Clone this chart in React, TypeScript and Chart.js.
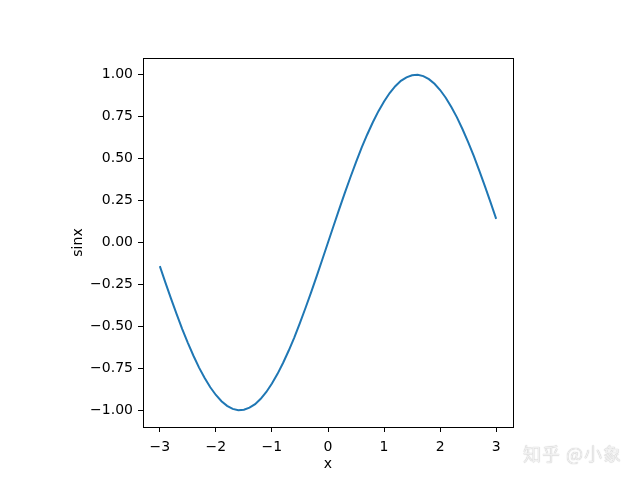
import React, { useEffect, useRef } from "react";
import { Chart, registerables } from "chart.js";

Chart.register(...registerables);

const xValues = [
  -3.0, -2.9, -2.8, -2.7, -2.6, -2.5, -2.4, -2.3, -2.2, -2.1,
  -2.0, -1.9, -1.8, -1.7, -1.6, -1.5, -1.4, -1.3, -1.2, -1.1,
  -1.0, -0.9, -0.8, -0.7, -0.6, -0.5, -0.4, -0.3, -0.2, -0.1,
  0.0, 0.1, 0.2, 0.3, 0.4, 0.5, 0.6, 0.7, 0.8, 0.9,
  1.0, 1.1, 1.2, 1.3, 1.4, 1.5, 1.6, 1.7, 1.8, 1.9,
  2.0, 2.1, 2.2, 2.3, 2.4, 2.5, 2.6, 2.7, 2.8, 2.9, 3.0,
];

const sinValues = [
  -0.141, -0.239, -0.335, -0.427, -0.516, -0.598, -0.675, -0.746, -0.808, -0.863,
  -0.909, -0.946, -0.974, -0.992, -1.0, -0.997, -0.985, -0.964, -0.932, -0.891,
  -0.841, -0.783, -0.717, -0.644, -0.565, -0.479, -0.389, -0.296, -0.199, -0.1,
  0.0, 0.1, 0.199, 0.296, 0.389, 0.479, 0.565, 0.644, 0.717, 0.783,
  0.841, 0.891, 0.932, 0.964, 0.985, 0.997, 1.0, 0.992, 0.974, 0.946,
  0.909, 0.863, 0.808, 0.746, 0.675, 0.598, 0.516, 0.427, 0.335, 0.239, 0.141,
];

const xTicks = [-3, -2, -1, 0, 1, 2, 3];
const yTicks = [-1.0, -0.75, -0.5, -0.25, 0.0, 0.25, 0.5, 0.75, 1.0];

const FONT = "'DejaVu Sans', sans-serif";

const fmtMinus = (s: string) => s.replace("-", "\u2212");

const framePlugin = {
  id: "frame",
  afterDraw(chart: any) {
    const { ctx, chartArea } = chart;
    ctx.save();
    ctx.strokeStyle = "#000";
    ctx.lineWidth = 1;
    ctx.strokeRect(
      Math.round(chartArea.left) + 0.5,
      Math.round(chartArea.top) + 0.5,
      Math.round(chartArea.right - chartArea.left),
      Math.round(chartArea.bottom - chartArea.top)
    );
    ctx.restore();
  },
};

export default function App() {
  const ref = useRef<HTMLCanvasElement | null>(null);

  useEffect(() => {
    if (!ref.current) return;
    const chart = new Chart(ref.current, {
      type: "line",
      data: {
        datasets: [
          {
            data: xValues.map((x, i) => ({ x, y: sinValues[i] })),
            borderColor: "#1f77b4",
            borderWidth: 2,
            pointRadius: 0,
            tension: 0,
            fill: false,
          },
        ],
      },
      options: {
        responsive: false,
        animation: false,
        layout: { padding: { left: 70, top: 58, right: 127, bottom: 0 } },
        plugins: {
          legend: { display: false },
          tooltip: { enabled: false },
        },
        scales: {
          x: {
            type: "linear",
            min: -3.3,
            max: 3.3,
            afterBuildTicks: (scale: any) => {
              scale.ticks = xTicks.map((v) => ({ value: v }));
            },
            afterFit: (scale: any) => {
              scale.height = 53;
            },
            grid: {
              drawOnChartArea: false,
              drawTicks: true,
              tickLength: 5,
              color: "#000",
            },
            border: { display: true, color: "#000" },
            ticks: {
              color: "#000",
              font: { family: FONT, size: 14 },
              padding: 7,
              maxRotation: 0,
              callback: (v: any) => fmtMinus(String(v)),
            },
            title: {
              display: true,
              text: "x",
              color: "#000",
              font: { family: FONT, size: 14 },
              padding: { top: 0, bottom: 7 },
            },
          },
          y: {
            type: "linear",
            min: -1.1,
            max: 1.1,
            afterBuildTicks: (scale: any) => {
              scale.ticks = yTicks.map((v) => ({ value: v }));
            },
            afterFit: (scale: any) => {
              scale.width = 73;
            },
            grid: {
              drawOnChartArea: false,
              drawTicks: true,
              tickLength: 5,
              color: "#000",
            },
            border: { display: true, color: "#000" },
            ticks: {
              color: "#000",
              font: { family: FONT, size: 14 },
              padding: 5,
              callback: (v: any) => fmtMinus(Number(v).toFixed(2)),
            },
            title: {
              display: true,
              text: "sinx",
              color: "#000",
              font: { family: FONT, size: 14 },
              padding: { top: 0, bottom: 0 },
            },
          },
        },
      },
      plugins: [framePlugin],
    });
    return () => chart.destroy();
  }, []);

  return (
    <div style={{ position: "fixed", left: 0, top: 0, width: 640, height: 480, background: "#fff" }}>
      <canvas ref={ref} width={640} height={480} style={{ width: 640, height: 480 }} />
      <div
        style={{
          position: "absolute",
          left: 523,
          top: 440,
          fontFamily: "'Noto Sans CJK SC', sans-serif",
          fontSize: 18,
          color: "#f0f0f0",
          textShadow: "0 0 1px #a8a8a8",
          whiteSpace: "nowrap",
          letterSpacing: 1,
        }}
      >
        知乎 @小象
      </div>
    </div>
  );
}
